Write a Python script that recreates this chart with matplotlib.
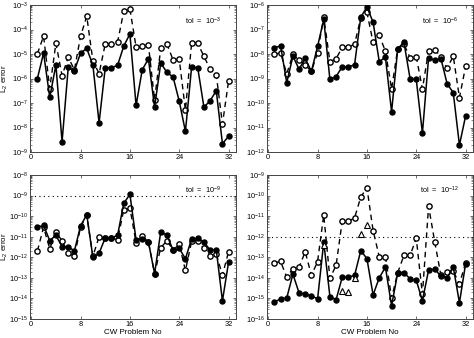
import numpy as np
import matplotlib
matplotlib.use("Agg")
import matplotlib.pyplot as plt
from matplotlib.ticker import FixedLocator, LogFormatterMathtext, NullFormatter

plt.rcParams['font.family'] = ['Liberation Sans', 'DejaVu Sans']
plt.rcParams['mathtext.fontset'] = 'custom'
plt.rcParams['mathtext.rm'] = 'Liberation Sans'
plt.rcParams['mathtext.it'] = 'Liberation Sans:italic'

problems = list(range(1, 33))

# log10 of L2 error, tol = 1e-3
p1_filled = [-6.00, -4.96, -6.77, -5.45, -8.58, -5.55, -5.68, -4.96, -4.77, -5.46, -7.81, -5.56,
             -5.56, -5.46, -4.68, -4.18, -7.10, -5.64, -5.20, -7.17, -5.37, -5.75, -5.94, -6.93,
             -8.16, -5.54, -5.57, -7.17, -6.91, -6.50, -8.66, -8.36]
p1_open = [-4.99, -4.27, -6.41, -4.56, -5.88, -5.13, -5.65, -4.27, -3.46, -5.28, -5.80, -4.59,
           -4.60, -4.51, -3.26, -3.16, -4.72, -4.69, -4.63, -6.88, -4.77, -4.60, -5.24, -5.21,
           -7.30, -4.56, -4.56, -5.10, -5.61, -5.84, -7.86, -6.10]

# tol = 1e-6
p2_filled = [-7.76, -7.66, -9.17, -8.09, -8.62, -8.18, -8.71, -7.69, -6.59, -9.04, -8.92, -8.52,
             -8.54, -8.43, -6.50, -6.08, -6.70, -8.31, -8.13, -10.36, -7.78, -7.52, -9.01, -9.04,
             -11.23, -8.15, -8.26, -8.19, -9.21, -9.58, -11.72, -10.53]
p2_open = [-8.02, -7.95, -8.81, -8.02, -8.26, -8.44, -8.71, -7.95, -6.48, -8.32, -8.19, -7.73,
           -7.72, -7.60, -6.53, -6.30, -7.52, -7.23, -7.89, -9.43, -7.78, -7.60, -8.15, -8.11,
           -9.43, -7.86, -7.82, -8.13, -8.58, -8.09, -9.78, -8.51]

# tol = 1e-9
p3_filled = [-10.54, -10.45, -11.19, -10.93, -11.49, -11.49, -11.69, -10.47, -9.93, -12.00, -11.80,
             -11.06, -11.06, -10.93, -9.38, -8.94, -11.16, -11.09, -11.26, -12.79, -10.76, -10.93,
             -11.65, -11.57, -12.07, -11.11, -11.08, -11.26, -11.65, -11.63, -14.12, -12.23]
p3_open = [-11.69, -10.54, -11.58, -10.77, -11.20, -11.80, -11.95, -10.53, -9.96, -11.95, -11.00,
           -11.06, -11.06, -11.14, -9.69, -9.61, -11.29, -10.96, -11.26, -12.79, -11.54, -11.19,
           -11.65, -11.37, -12.64, -11.23, -11.20, -11.57, -11.92, -11.84, -12.87, -11.72]

# tol = 1e-12
p4_filled = [-15.18, -15.02, -14.98, -13.82, -14.73, -14.79, -14.86, -15.03, -12.26, -14.91, -15.06,
             -13.97, -13.97, -13.88, -12.68, -13.06, -14.83, -14.00, -13.48, -15.36, -13.74, -13.74,
             -14.05, -14.12, -15.11, -13.62, -13.58, -13.92, -14.00, -13.47, -15.21, -13.32]
p4_open = [-13.27, -13.20, -13.97, -13.55, -13.48, -12.73, -13.88, -13.21, -10.94, -14.03, -13.39,
           -11.24, -11.26, -11.08, -10.08, -9.61, -11.70, -12.97, -12.98, -14.98, -13.74, -12.91,
           -12.91, -12.08, -14.80, -10.52, -12.26, -13.88, -13.73, -13.67, -14.30, -13.27]
p4_tri_x = [9, 12, 13, 14, 15, 16]
p4_tri = [-12.38, -14.65, -14.68, -14.03, -11.85, -11.45]

panels = [
    dict(filled=p1_filled, open=p1_open, ylim=(-9, -3), tol="-3", tolline=None),
    dict(filled=p2_filled, open=p2_open, ylim=(-12, -6), tol="-6", tolline=None),
    dict(filled=p3_filled, open=p3_open, ylim=(-15, -8), tol="-9", tolline=-9),
    dict(filled=p4_filled, open=p4_open, ylim=(-16, -9), tol="-12", tolline=-12),
]

W, H = 474, 338
fig = plt.figure(figsize=(W / 100, H / 100), dpi=100)
boxes = [(30, 5, 236, 152), (267, 5, 473, 152), (30, 175, 236, 319), (267, 175, 473, 319)]

fs = 5.3
for i, (pan, (l, t, r, b)) in enumerate(zip(panels, boxes)):
    ax = fig.add_axes([l / W, 1 - b / H, (r - l) / W, (b - t) / H])
    x = np.array(problems)
    ax.plot(x, 10.0 ** np.array(pan["open"]), ls=(0, (4, 3)), color="black", lw=1.0,
            marker="o", ms=3.8, mfc="white", mec="black", mew=1.0, zorder=2)
    ax.plot(x, 10.0 ** np.array(pan["filled"]), ls="-", color="black", lw=1.1,
            marker="o", ms=3.6, mfc="black", mec="black", zorder=3)
    if i == 3:
        ax.plot(p4_tri_x, 10.0 ** np.array(p4_tri), ls="none", marker="^", ms=3.8,
                mfc="white", mec="black", mew=0.8, zorder=4)
    if pan["tolline"] is not None:
        ax.axhline(10.0 ** pan["tolline"], color="black", ls=(0, (1, 3)), lw=0.8, zorder=1)
    ax.set_yscale("log")
    lo, hi = pan["ylim"]
    ax.set_ylim(10.0 ** lo, 10.0 ** hi)
    ax.set_xlim(-0.2, 33.2)
    ax.xaxis.set_major_locator(FixedLocator([0, 8, 16, 24, 32]))
    decades = np.arange(lo, hi + 1)
    ax.yaxis.set_major_locator(FixedLocator(10.0 ** decades))
    minors = [m * 10.0 ** d for d in decades[:-1] for m in range(2, 10)]
    ax.yaxis.set_minor_locator(FixedLocator(minors))
    ax.yaxis.set_minor_formatter(NullFormatter())
    ax.yaxis.set_major_formatter(LogFormatterMathtext())
    ax.tick_params(which="both", direction="in", top=True, right=True, labelsize=fs,
                   colors="#333333", labelcolor="black", pad=1.5)
    ax.tick_params(which="major", length=2.5, width=0.5)
    ax.tick_params(which="minor", length=1.3, width=0.4)
    for s in ax.spines.values():
        s.set_color("#444444")
        s.set_linewidth(0.7)
    ax.text(0.93, 0.93, r"tol  =  $10^{%s}$" % pan["tol"], transform=ax.transAxes,
            ha="right", va="top", fontsize=fs)
    if i in (0, 2):
        ax.set_ylabel(r"L$_2$ error", fontsize=5.8)
        ax.yaxis.set_label_coords(-0.098, 0.5)
    if i in (2, 3):
        ax.set_xlabel("CW Problem No", fontsize=5.8, labelpad=0.5)

fig.savefig("out.png", dpi=100)
